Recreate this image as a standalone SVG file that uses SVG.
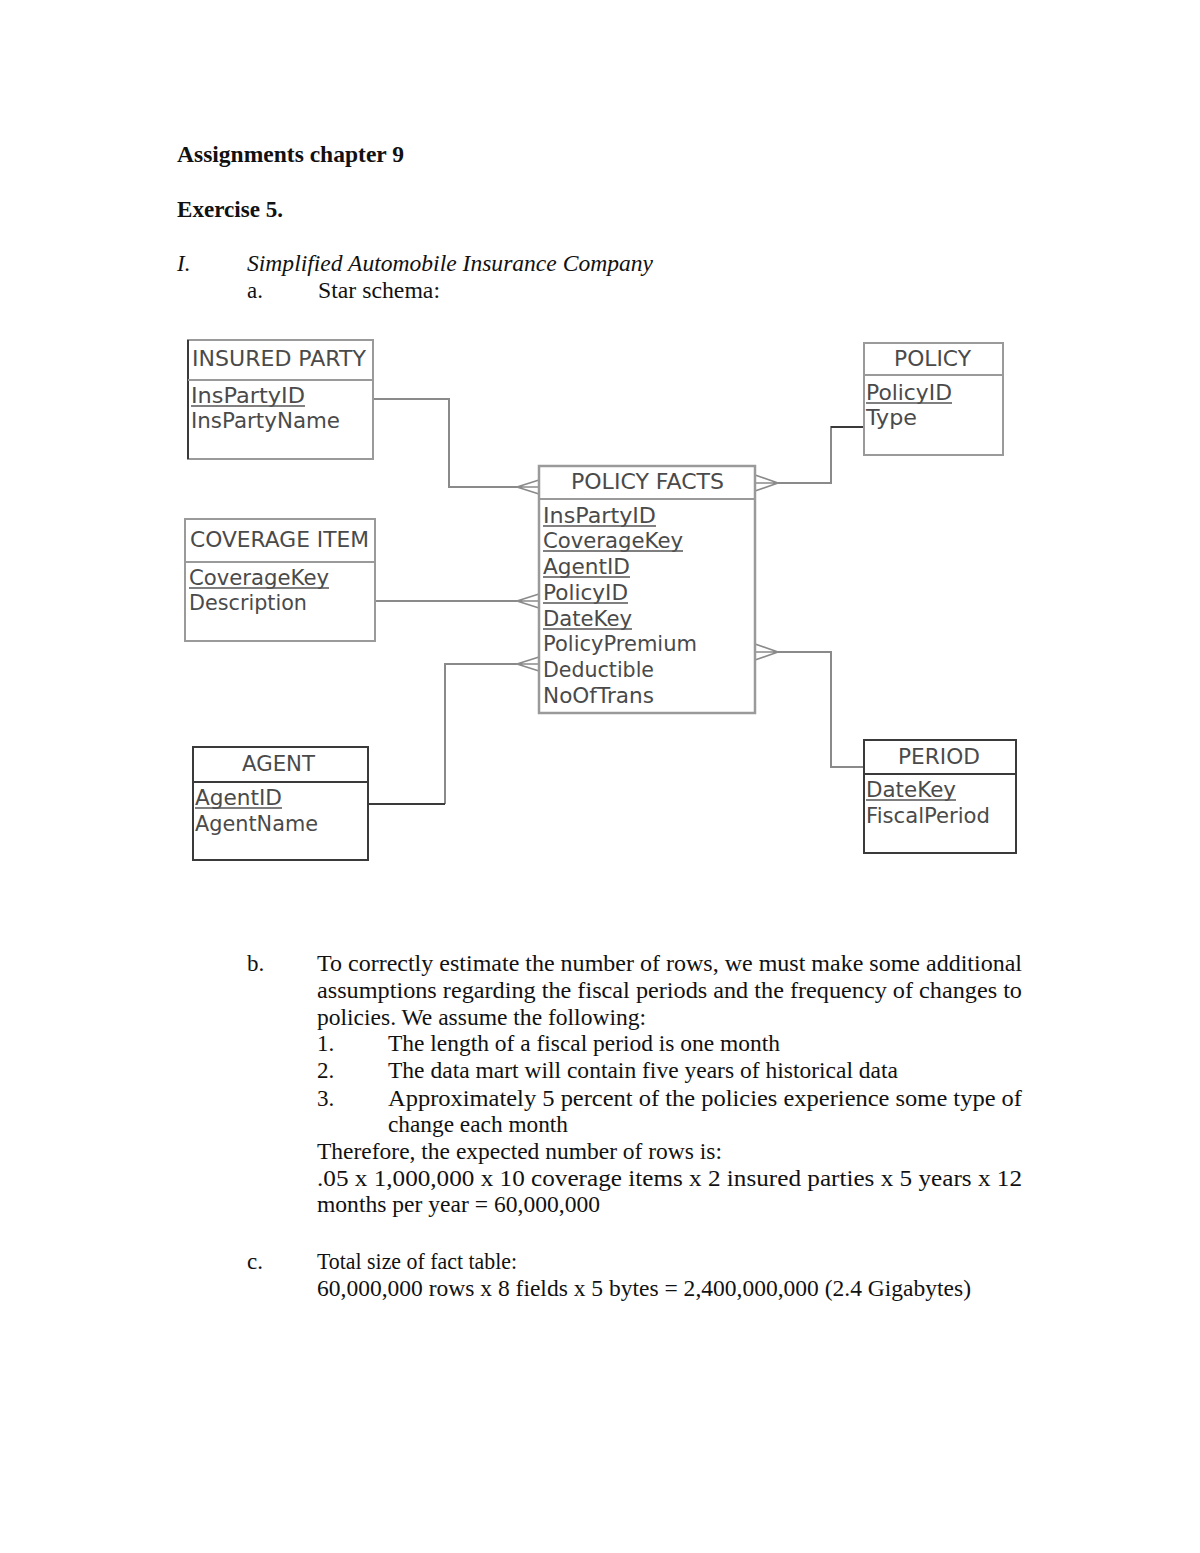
<svg xmlns="http://www.w3.org/2000/svg" width="1200" height="1553" viewBox="0 0 1200 1553">
<style>
.body{font-family:"Liberation Serif","Times New Roman",serif;font-size:23px;fill:#111}
.b{font-weight:bold}
.i{font-style:italic}
.er{font-family:"DejaVu Sans",Verdana,sans-serif;font-size:21px;fill:#4a4a4a}
.box{fill:#fff;stroke:#9a9a9a;stroke-width:2}
.dark{stroke:#3a3a3a}
.sep{stroke:#9a9a9a;stroke-width:2}
.ul{stroke:#555;stroke-width:1.5}
.con{fill:none;stroke:#8a8a8a;stroke-width:2}
.foot{fill:none;stroke:#8a8a8a;stroke-width:1.6}
</style>
<rect width="1200" height="1553" fill="#fff"/>

<g id="text-top">
<text class="body b" x="177" y="162" textLength="227" lengthAdjust="spacingAndGlyphs">Assignments chapter 9</text>
<text class="body b" x="177" y="217" textLength="106" lengthAdjust="spacingAndGlyphs">Exercise 5.</text>
<text class="body i" x="177" y="271">I.</text>
<text class="body i" x="247" y="271" textLength="406" lengthAdjust="spacingAndGlyphs">Simplified Automobile Insurance Company</text>
<text class="body" x="247" y="298">a.</text>
<text class="body" x="318" y="298" textLength="122" lengthAdjust="spacingAndGlyphs">Star schema:</text>
</g>

<g id="connectors">
<path class="con" d="M373,399 H449 V487 H517"/>
<path class="con" d="M375,601 H517"/>
<path class="con" d="M445,804 V664 H517"/>
<path class="con" style="stroke:#3a3a3a" d="M368,804 H445"/>
<path class="con" d="M864,427 H831 V483 H778"/>
<path class="con" style="stroke:#3a3a3a" d="M864,427 H831"/>
<path class="con" d="M778,652 H831 V767 H864"/>
<path class="foot" d="M539,480 L517,487 L539,494 M517,487 H539"/>
<path class="foot" d="M539,594 L517,601 L539,608 M517,601 H539"/>
<path class="foot" d="M539,657 L517,664 L539,671 M517,664 H539"/>
<path class="foot" d="M755,475 L778,483 L755,491 M778,483 H755"/>
<path class="foot" d="M755,644 L778,652 L755,660 M778,652 H755"/>
</g>

<g id="insured-party">
<rect class="box" x="188" y="340" width="185" height="119"/>
<line class="sep" style="stroke:#3a3a3a" x1="188" y1="340" x2="188" y2="459"/>
<line class="sep" x1="188" y1="380" x2="373" y2="380"/>
<text class="er" x="192" y="366" textLength="174" lengthAdjust="spacingAndGlyphs">INSURED PARTY</text>
<text class="er" x="191" y="403" textLength="114" lengthAdjust="spacingAndGlyphs">InsPartyID</text>
<line class="ul" x1="191" y1="406" x2="305" y2="406"/>
<text class="er" x="191" y="428" textLength="149" lengthAdjust="spacingAndGlyphs">InsPartyName</text>
</g>

<g id="coverage-item">
<rect class="box" x="185" y="519" width="190" height="122"/>
<line class="sep" x1="185" y1="562" x2="375" y2="562"/>
<text class="er" x="190" y="547" textLength="179" lengthAdjust="spacingAndGlyphs">COVERAGE ITEM</text>
<text class="er" x="189" y="585" textLength="140" lengthAdjust="spacingAndGlyphs">CoverageKey</text>
<line class="ul" x1="189" y1="588" x2="329" y2="588"/>
<text class="er" x="189" y="610" textLength="118" lengthAdjust="spacingAndGlyphs">Description</text>
</g>

<g id="policy-facts">
<rect class="box" x="539" y="466" width="216" height="247" style="stroke-width:2.5"/>
<line class="sep" x1="539" y1="499" x2="755" y2="499"/>
<text class="er" x="571" y="489" textLength="153" lengthAdjust="spacingAndGlyphs">POLICY FACTS</text>
<text class="er" x="543" y="523" textLength="113" lengthAdjust="spacingAndGlyphs">InsPartyID</text>
<line class="ul" x1="543" y1="526" x2="656" y2="526"/>
<text class="er" x="543" y="548" textLength="140" lengthAdjust="spacingAndGlyphs">CoverageKey</text>
<line class="ul" x1="543" y1="551" x2="683" y2="551"/>
<text class="er" x="543" y="574" textLength="87" lengthAdjust="spacingAndGlyphs">AgentID</text>
<line class="ul" x1="543" y1="577" x2="630" y2="577"/>
<text class="er" x="543" y="600" textLength="85" lengthAdjust="spacingAndGlyphs">PolicyID</text>
<line class="ul" x1="543" y1="603" x2="628" y2="603"/>
<text class="er" x="543" y="626" textLength="89" lengthAdjust="spacingAndGlyphs">DateKey</text>
<line class="ul" x1="543" y1="629" x2="632" y2="629"/>
<text class="er" x="543" y="651" textLength="154" lengthAdjust="spacingAndGlyphs">PolicyPremium</text>
<text class="er" x="543" y="677" textLength="111" lengthAdjust="spacingAndGlyphs">Deductible</text>
<text class="er" x="543" y="703" textLength="111" lengthAdjust="spacingAndGlyphs">NoOfTrans</text>
</g>

<g id="policy">
<rect class="box" x="864" y="343" width="139" height="112"/>
<line class="sep" x1="864" y1="375" x2="1003" y2="375"/>
<text class="er" x="894" y="366" textLength="77" lengthAdjust="spacingAndGlyphs">POLICY</text>
<text class="er" x="866" y="400" textLength="86" lengthAdjust="spacingAndGlyphs">PolicyID</text>
<line class="ul" x1="866" y1="403" x2="952" y2="403"/>
<text class="er" x="866" y="425" textLength="51" lengthAdjust="spacingAndGlyphs">Type</text>
</g>

<g id="agent">
<rect class="box dark" x="193" y="747" width="175" height="113"/>
<line class="sep" style="stroke:#3a3a3a" x1="193" y1="782" x2="368" y2="782"/>
<text class="er" x="242" y="771" textLength="73" lengthAdjust="spacingAndGlyphs">AGENT</text>
<text class="er" x="195" y="805" textLength="87" lengthAdjust="spacingAndGlyphs">AgentID</text>
<line class="ul" x1="195" y1="808" x2="282" y2="808"/>
<text class="er" x="195" y="831" textLength="123" lengthAdjust="spacingAndGlyphs">AgentName</text>
</g>

<g id="period">
<rect class="box dark" x="864" y="740" width="152" height="113"/>
<line class="sep" style="stroke:#3a3a3a" x1="864" y1="774" x2="1016" y2="774"/>
<text class="er" x="898" y="764" textLength="82" lengthAdjust="spacingAndGlyphs">PERIOD</text>
<text class="er" x="866" y="797" textLength="90" lengthAdjust="spacingAndGlyphs">DateKey</text>
<line class="ul" x1="866" y1="800" x2="956" y2="800"/>
<text class="er" x="866" y="823" textLength="124" lengthAdjust="spacingAndGlyphs">FiscalPeriod</text>
</g>

<g id="text-bottom">
<text class="body" x="247" y="971">b.</text>
<text class="body" x="317" y="971" textLength="705" lengthAdjust="spacingAndGlyphs">To correctly estimate the number of rows, we must make some additional</text>
<text class="body" x="317" y="998" textLength="705" lengthAdjust="spacingAndGlyphs">assumptions regarding the fiscal periods and the frequency of changes to</text>
<text class="body" x="317" y="1025" textLength="329" lengthAdjust="spacingAndGlyphs">policies. We assume the following:</text>
<text class="body" x="317" y="1051">1.</text>
<text class="body" x="388" y="1051" textLength="392" lengthAdjust="spacingAndGlyphs">The length of a fiscal period is one month</text>
<text class="body" x="317" y="1078">2.</text>
<text class="body" x="388" y="1078" textLength="510" lengthAdjust="spacingAndGlyphs">The data mart will contain five years of historical data</text>
<text class="body" x="317" y="1106">3.</text>
<text class="body" x="388" y="1106" textLength="634" lengthAdjust="spacingAndGlyphs">Approximately 5 percent of the policies experience some type of</text>
<text class="body" x="388" y="1132" textLength="180" lengthAdjust="spacingAndGlyphs">change each month</text>
<text class="body" x="317" y="1159" textLength="405" lengthAdjust="spacingAndGlyphs">Therefore, the expected number of rows is:</text>
<text class="body" x="317" y="1186" textLength="705" lengthAdjust="spacingAndGlyphs">.05 x 1,000,000 x 10 coverage items x 2 insured parties x 5 years x 12</text>
<text class="body" x="317" y="1212" textLength="283" lengthAdjust="spacingAndGlyphs">months per year = 60,000,000</text>
<text class="body" x="247" y="1269">c.</text>
<text class="body" x="317" y="1269" textLength="200" lengthAdjust="spacingAndGlyphs">Total size of fact table:</text>
<text class="body" x="317" y="1296" textLength="654" lengthAdjust="spacingAndGlyphs">60,000,000 rows x 8 fields x 5 bytes = 2,400,000,000 (2.4 Gigabytes)</text>
</g>
</svg>
